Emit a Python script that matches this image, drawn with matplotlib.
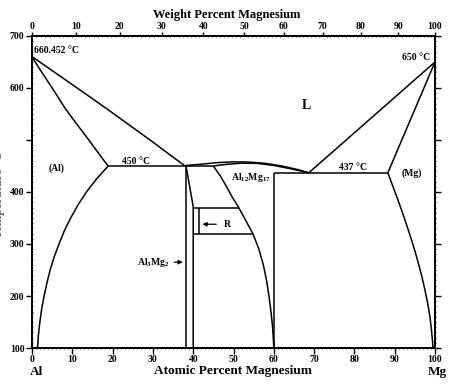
import numpy as np
import matplotlib
matplotlib.use("Agg")
import matplotlib.pyplot as plt
from matplotlib.ticker import MultipleLocator

plt.rcParams['font.family'] = ['Liberation Serif', 'DejaVu Serif']
plt.rcParams['font.weight'] = 'bold'
plt.rcParams['mathtext.fontset'] = 'custom'
plt.rcParams['mathtext.rm'] = 'Liberation Serif:bold'
plt.rcParams['mathtext.bf'] = 'Liberation Serif:bold'
plt.rcParams['mathtext.it'] = 'Liberation Serif:bold'

# ---- data (atomic % Mg, temperature °C) ----
liq_al_x = [0, 5, 10, 15, 20, 25, 30, 35, 38.0]
liq_al_t = [660.452, 633.5, 606.5, 579.5, 552, 524, 496, 467, 450]

sol_al_x = [0, 1.6, 3.3, 5.0, 6.65, 8.3, 10.2, 12.15, 14.1, 16.0, 17.9, 18.9]
sol_al_t = [660.452, 640, 620, 600, 580, 560, 540, 520, 500, 480, 460, 450]

solv_al_x = [18.9, 16.0, 13.5, 11.4, 9.6, 8.0, 6.7, 5.5, 4.5, 3.7, 3.0, 2.4, 1.95, 1.6, 1.35]
solv_al_t = [450, 425, 400, 375, 350, 325, 300, 275, 250, 225, 200, 175, 150, 125, 100]

eut450_x = [18.9, 45.0]
eut450_t = [450, 450]

beta_left_x = [38.2, 38.2]
beta_left_t = [451, 100]
beta_right_x = [38.2, 40.0, 40.0]
beta_right_t = [451, 372, 100]

liq_mid_x = [38.2, 42, 46, 50, 54, 58, 62, 66, 68.7]
liq_mid_t = [451, 453.5, 456.5, 458, 457.5, 455, 450, 443, 437]

gam_sol_x = [45, 48, 52, 56, 60, 64, 68.7]
gam_sol_t = [450, 453, 455.5, 455, 451, 445, 437]

gam_left_x = [45.0, 46.8, 48.3, 49.7, 51.3, 52.7, 54.8, 56.3, 57.4, 58.2, 58.8, 59.3, 59.7, 59.95, 60.0]
gam_left_t = [450, 430, 410, 390, 370, 350, 320, 290, 260, 230, 200, 170, 140, 110, 100]

gam_right_x = [60.0, 60.0]
gam_right_t = [437, 100]

eut437_x = [60.0, 88.3]
eut437_t = [437, 437]

liq_mg_x = [68.7, 100]
liq_mg_t = [437, 650]
sol_mg_x = [88.3, 100]
sol_mg_t = [437, 650]

solv_mg_x = [88.3, 89.5, 90.7, 91.85, 92.95, 94.0, 95.0, 95.9, 96.75, 97.5, 98.15, 98.7, 99.1, 99.4, 99.5]
solv_mg_t = [437, 412, 387, 362, 337, 312, 287, 262, 237, 212, 187, 162, 137, 112, 100]

r_top_x = [40.0, 51.3]
r_top_t = [370, 370]
r_bot_x = [40.0, 54.8]
r_bot_t = [320, 320]
r_vert_x = [41.4, 41.4]
r_vert_t = [320, 370]

wt_ticks = [0, 10, 20, 30, 40, 50, 60, 70, 80, 90, 100]
at_ticks = [0, 10, 20, 30, 40, 50, 60, 70, 80, 90, 100]
t_ticks = [100, 200, 300, 400, 500, 600, 700]
t_labels = ['100', '200', '300', '400', '', '600', '700']

M_AL, M_MG = 26.982, 24.305


def at2wt(a):
    a = np.asarray(a, dtype=float)
    return 100 * a * M_MG / (a * M_MG + (100 - a) * M_AL)


def wt2at(w):
    w = np.asarray(w, dtype=float)
    return 100 * (w / M_MG) / (w / M_MG + (100 - w) / M_AL)


fig = plt.figure(figsize=(4.71, 3.89), dpi=100)
ax = fig.add_axes([32 / 471, 1 - 348 / 389, 403 / 471, 312 / 389])
ax.set_xlim(0, 100)
ax.set_ylim(100, 700)

lw = 1.1
col = 'black'
for xs, ts in [(liq_al_x, liq_al_t), (sol_al_x, sol_al_t), (solv_al_x, solv_al_t),
               (eut450_x, eut450_t), (beta_left_x, beta_left_t), (beta_right_x, beta_right_t),
               (liq_mid_x, liq_mid_t), (gam_sol_x, gam_sol_t), (gam_left_x, gam_left_t),
               (gam_right_x, gam_right_t), (eut437_x, eut437_t), (liq_mg_x, liq_mg_t),
               (sol_mg_x, sol_mg_t), (solv_mg_x, solv_mg_t), (r_top_x, r_top_t),
               (r_bot_x, r_bot_t), (r_vert_x, r_vert_t)]:
    ax.plot(xs, ts, color=col, lw=lw, solid_capstyle='butt', solid_joinstyle='round')

for s in ax.spines.values():
    s.set_linewidth(1.4)

ax.set_xticks(at_ticks)
ax.xaxis.set_minor_locator(MultipleLocator(1))
ax.set_yticks(t_ticks)
ax.set_yticklabels(t_labels)
ax.yaxis.set_minor_locator(MultipleLocator(10))
ax.tick_params(axis='both', which='major', labelsize=7, length=4, width=1.0, direction='out', pad=1.5)
ax.tick_params(axis='both', which='minor', length=2, width=0.6, direction='inout')
ax.tick_params(axis='y', which='both', right=True, labelright=False)
ax.tick_params(axis='x', which='major', pad=1)

sec = ax.secondary_xaxis('top', functions=(at2wt, wt2at))
sec.set_xticks(wt_ticks)
sec.xaxis.set_minor_locator(MultipleLocator(1))
sec.tick_params(axis='x', which='major', labelsize=7, length=3, width=1.0, direction='out', pad=0.5)
sec.tick_params(axis='x', which='minor', length=2, width=0.6, direction='inout')
sec.spines['top'].set_linewidth(1.4)

fig.text(227 / 471, 1 - 15 / 389, 'Weight Percent Magnesium', fontsize=9, ha='center', va='center')
ax.set_xlabel('Atomic Percent Magnesium', fontsize=9.5, fontweight='bold', labelpad=1)

fs = 7
ax.text(0.5, 673, '660.452 °C', fontsize=fs, ha='left', va='center')
ax.text(98.8, 658, '650 °C', fontsize=fs, ha='right', va='center')
ax.text(68.2, 567, 'L', fontsize=10, ha='center', va='center')
ax.text(6, 446, '(Al)', fontsize=fs, ha='center', va='center')
ax.text(25.8, 458, '450 °C', fontsize=fs, ha='center', va='center')
ax.text(54.3, 427, r'Al$_{12}$Mg$_{17}$', fontsize=fs, ha='center', va='center')
ax.text(79.7, 448, '437 °C', fontsize=fs, ha='center', va='center')
ax.text(94.3, 436, '(Mg)', fontsize=fs, ha='center', va='center')
ax.text(48.4, 338, 'R', fontsize=fs, ha='center', va='center')
ax.annotate('', xy=(41.6, 338), xytext=(46.4, 338),
            arrowprops=dict(arrowstyle='-|>', color='black', lw=0.9, mutation_scale=6))
ax.text(34.2, 265, r'Al$_3$Mg$_2$', fontsize=fs, ha='right', va='center')
ax.annotate('', xy=(38.1, 265), xytext=(34.6, 265),
            arrowprops=dict(arrowstyle='-|>', color='black', lw=0.9, mutation_scale=6))

fig.text(36 / 471, 1 - 372 / 389, 'Al', fontsize=9.5, ha='center', va='center')
fig.text(437 / 471, 1 - 372 / 389, 'Mg', fontsize=9.5, ha='center', va='center')
fig.text(5 / 471, 0.5, 'Temperature °C', fontsize=9, rotation=90, ha='right', va='center', color='#666666')

fig.savefig('out.png', dpi=100)
